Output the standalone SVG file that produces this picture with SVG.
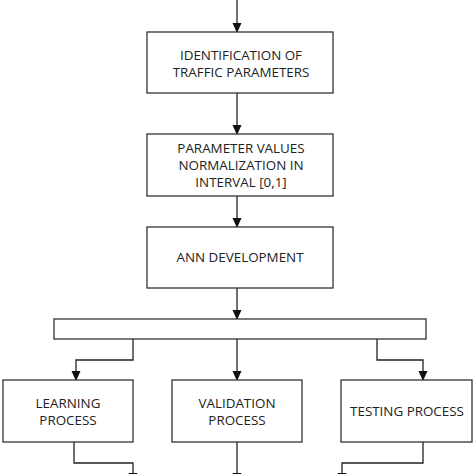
<svg xmlns="http://www.w3.org/2000/svg" width="474" height="474" viewBox="0 0 474 474">
<defs>
<marker id="arr" markerWidth="10" markerHeight="11" refX="10" refY="5" orient="auto" markerUnits="userSpaceOnUse" viewBox="0 0 11 10">
<path d="M0,0 L11,5 L0,10 Z" fill="#111"/>
</marker>
<style>
.box{fill:#fff;stroke:#333;stroke-width:1.3}
.ln{fill:none;stroke:#222;stroke-width:1.3}
text{font-family:"Open Sans","Noto Sans",sans-serif;font-size:13.4px;fill:#222;text-anchor:middle}
</style>
</defs>
<rect width="474" height="474" fill="#fff"/>
<g id="connectors">
<path class="ln" d="M237,0 V32" marker-end="url(#arr)"/>
<path class="ln" d="M237,93 V134" marker-end="url(#arr)"/>
<path class="ln" d="M237,196 V227" marker-end="url(#arr)"/>
<path class="ln" d="M237,288 V319" marker-end="url(#arr)"/>
<path class="ln" d="M133,339 V360 H76 V380" marker-end="url(#arr)"/>
<path class="ln" d="M237,339 V380" marker-end="url(#arr)"/>
<path class="ln" d="M377,339 V360 H423 V380" marker-end="url(#arr)"/>
<path class="ln" d="M74,442 V463 H133 V482" marker-end="url(#arr)"/>
<path class="ln" d="M237,442 V482" marker-end="url(#arr)"/>
<path class="ln" d="M423,442 V463 H342 V482" marker-end="url(#arr)"/>
</g>
<g id="n1">
<rect class="box" x="147" y="32" width="186" height="61"/>
<text x="241" y="60">IDENTIFICATION OF</text>
<text x="241" y="77">TRAFFIC PARAMETERS</text>
</g>
<g id="n2">
<rect class="box" x="147" y="134" width="186" height="62"/>
<text x="241" y="153">PARAMETER VALUES</text>
<text x="241" y="170">NORMALIZATION IN</text>
<text x="241" y="187">INTERVAL [0,1]</text>
</g>
<g id="n3">
<rect class="box" x="147" y="227" width="186" height="61"/>
<text x="240" y="262">ANN DEVELOPMENT</text>
</g>
<g id="bar">
<rect class="box" x="54" y="319" width="372" height="20"/>
</g>
<g id="n4">
<rect class="box" x="3" y="380" width="130" height="62"/>
<text x="68" y="408">LEARNING</text>
<text x="68" y="425">PROCESS</text>
</g>
<g id="n5">
<rect class="box" x="172" y="380" width="130" height="62"/>
<text x="237" y="408">VALIDATION</text>
<text x="237" y="425">PROCESS</text>
</g>
<g id="n6">
<rect class="box" x="341" y="380" width="131" height="62"/>
<text x="407" y="416">TESTING PROCESS</text>
</g>
</svg>
